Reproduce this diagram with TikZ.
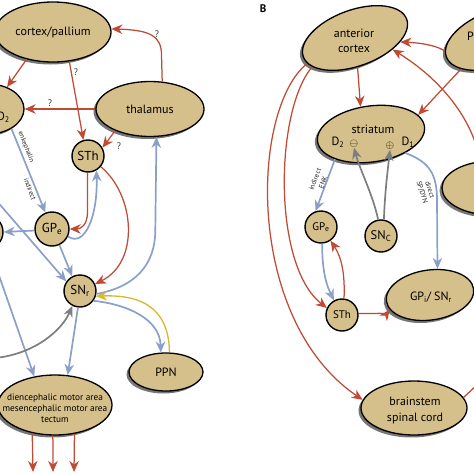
\documentclass[tikz,border=0pt]{standalone}
\usepackage{fontspec}
\setmainfont{PT Sans}
\usetikzlibrary{shapes.geometric,shadows,arrows.meta}
\definecolor{nodetan}{RGB}{213,191,138}
\definecolor{redc}{RGB}{193,74,52}
\definecolor{bluec}{RGB}{139,160,201}
\definecolor{yellowc}{RGB}{212,184,48}
\definecolor{greyc}{RGB}{125,126,130}
\definecolor{shadowgrey}{RGB}{118,118,118}
\begin{document}
\begin{tikzpicture}[x=1pt,y=-1pt,
  ell/.style={ellipse, draw=black, line width=1.3pt, fill=nodetan, inner sep=0pt,
    general shadow={fill=shadowgrey, shadow xshift=-2.5pt, shadow yshift=-2.5pt},
    font=\fontsize{12}{15}\selectfont, align=center},
  circ/.style={circle, draw=black, line width=1.4pt, fill=nodetan, inner sep=0pt, minimum size=32pt},
  txt/.style={font=\fontsize{12}{15}\selectfont, align=center, inner sep=0pt},
  tip/.style={-{Stealth[length=11pt,width=9.5pt,inset=3.5pt]}},
  ra/.style={draw=redc, line width=1.25pt, tip},
  rl/.style={draw=redc, line width=1.25pt},
  ba/.style={draw=bluec, line width=1.7pt, tip},
  ya/.style={draw=yellowc, line width=1.3pt, tip},
  ga/.style={draw=greyc, line width=1.7pt, tip},
  q/.style={font=\fontsize{9.5}{10}\selectfont, text=black!80, inner sep=0pt},
  lab/.style={font=\fontsize{7}{8}\selectfont, inner sep=0pt, text=black!85}
]
\useasboundingbox (0,0) rectangle (474,474);

% ---------------- Panel A ----------------
\node[ell, minimum width=116pt, minimum height=60pt] (cortex) at (53,32) {cortex/pallium};
\node[ell, minimum width=108pt, minimum height=55pt] (thal) at (150,109) {thalamus};
\node[ell, minimum width=72pt, minimum height=50pt] (striA) at (-12,109) {};
\node[txt, anchor=east] (d2a) at (10,117) {D\textsubscript{2}};
\node[circ, minimum size=34pt, font=\fontsize{13}{15}\selectfont] (leftnode) at (-14,232) {};
\node[circ, font=\fontsize{13}{15}\selectfont] (sthA) at (88,156) {STh};
\node[circ, minimum size=34pt, font=\fontsize{13}{15}\selectfont] (gpeA) at (52,229) {GP\textsubscript{e}};
\node[circ, font=\fontsize{13}{15}\selectfont] (snrA) at (80,291) {SN\textsubscript{r}};
\node[ell, minimum width=74pt, minimum height=38pt] (ppn) at (166,372) {PPN};
\node[ell, minimum width=114pt, minimum height=60pt] (dien) at (55,405) {};
\node[txt, font=\fontsize{9.3}{11}\selectfont] (dientxt) at (55,408) {diencephalic motor area\\mesencephalic motor area\\tectum};

\draw[ra] (cortex.226) -- (striA.49);
\draw[ra] (cortex.299) -- (sthA.106);
\node[q] (q1) at (76,72) {?};
\draw[ra] (thal.66) -- (161.5,55) .. controls (161.5,36) and (150,30) .. (cortex.3);
\node[q] (q2) at (157,34) {?};
\draw[ra] (thal.180) -- (striA.0);
\node[q] (q3) at (50,103) {?};
\draw[ra] (thal.212) -- (sthA.30);
\node[q] (q4) at (119,146) {?};

\draw[ba] (striA.320) -- (gpeA.112);
\node[lab, rotate=-68.7] (lenk) at (26,147) {enkephalin};
\node[lab, rotate=-68.7] (lind) at (30,189) {indirect};
\draw[ba] (gpeA.185) -- (leftnode.0);
\draw[ba] (gpeA.295) -- (snrA.118);
\coordinate (lin1) at (-5,199);
\draw[ba] (lin1) -- (snrA.145);
\coordinate (lin2) at (-5,264);
\draw[ba] (lin2) -- (dien.126);
\draw[ba] (snrA.263) -- (dien.67);
\coordinate (lin3) at (-5,358);
\draw[ga] (lin3) .. controls (35,354) and (62,330) .. (snrA.243);

\draw[ra] (sthA.268) -- (87.5,212) .. controls (87.5,226) and (80,229) .. (gpeA.0);
\draw[ba] (gpeA.335) .. controls (85,248) and (98,215) .. (sthA.300);
\draw[ra] (sthA.320) .. controls (135,195) and (140,262) .. (snrA.25);
\draw[ba] (snrA.350) .. controls (135,287) and (155.3,265) .. (155.3,230) -- (thal.283);
\draw[ya] (ppn.80) .. controls (169,300) and (130,295) .. (snrA.342);
\draw[ba] (snrA.324) .. controls (125,304) and (160,318) .. (ppn.105);

\coordinate (o1) at (33,472);
\coordinate (o2) at (53,472);
\coordinate (o3) at (74,472);
\draw[ra] (dien.231.5) -- (o1);
\draw[ra] (dien.266) -- (o2);
\draw[ra] (dien.304) -- (o3);

% ---------------- Panel B ----------------
\node[font=\bfseries\fontsize{11}{12}\selectfont, inner sep=0pt] (blabel) at (263,9) {B};

\node[ell, rotate=20, minimum width=110pt, minimum height=56pt] (actx) at (355,38) {};
\node[txt] (actxt) at (354,41) {anterior\\cortex};
\node[ell, rotate=20, minimum width=110pt, minimum height=56pt] (pctx) at (498,38) {};
\node[txt, anchor=west] (pctxt) at (467,36) {P};
\node[ell, minimum width=100pt, minimum height=54pt] (rthal) at (492,188) {};
\node[ell, rotate=8, minimum width=108pt, minimum height=56pt] (stri) at (371,134) {};
\node[txt] (stritxt) at (373,129) {striatum};
\node[txt] (d2b) at (338,142) {D\textsubscript{2}};
\node[txt] (d1b) at (408,142) {D\textsubscript{1}};
\node[inner sep=0pt, font=\fontsize{11}{12}\selectfont] (minus) at (354,144) {$\ominus$};
\node[inner sep=0pt, font=\fontsize{11}{12}\selectfont] (plus) at (390,146) {$\oplus$};
\node[circ, font=\fontsize{11}{13}\selectfont] (gpeB) at (321,227) {GP\textsubscript{e}};
\node[circ, font=\fontsize{12.5}{14}\selectfont] (sncB) at (381,236) {SN\textsubscript{C}};
\node[circ, font=\fontsize{11}{13}\selectfont] (sthB) at (342,315) {STh};
\node[ell, rotate=8, minimum width=88pt, minimum height=50pt] (gpi) at (430,295) {};
\node[txt] (gpitxt) at (431,297) {GP\textsubscript{i}/ SN\textsubscript{r}};
\node[ell, minimum width=106pt, minimum height=54pt] (brain) at (414,408) {};
\node[txt, font=\fontsize{12}{16}\selectfont] (braintxt) at (415,410) {brainstem\\spinal cord};

\draw[ra] (actx.255) -- (stri.103);
\draw[ra] (pctx.174) .. controls (440,47) and (425,43) .. (actx.335);
\draw[ra] (pctx.200) -- (stri.14);
\draw[ra] (rthal.115) .. controls (476,130) and (450,85) .. (actx.323);
\draw[ra] (actx.194) .. controls (275,110) and (272,265) .. (sthB.155);
\draw[ra] (actx.188) .. controls (250,110) and (245,320) .. (brain.171);

\draw[ba] (stri.207) -- (gpeB.109);
\node[lab, rotate=69] (lind2) at (315,179.5) {indirect};
\node[lab, rotate=69] (lenk2) at (323,182.5) {ENK};
\draw[ba] (stri.323) .. controls (430,162) and (437,175) .. (437,200) -- (gpi.66);
\node[lab, rotate=-72] (ldir) at (430,189.5) {direct};
\node[lab, rotate=-72] (lspd) at (422,192.5) {SP/DYN};

\draw[ga] (sncB.100) .. controls (373,195) and (360,170) .. (minus.south);
\draw[ga] (sncB.80) .. controls (385,190) and (388,168) .. (plus.south);

\draw[ba] (gpeB.274) .. controls (322,275) and (328,288) .. (sthB.119);
\draw[ra] (sthB.83) .. controls (345,275) and (342,258) .. (gpeB.305);
\draw[ra] (sthB.5) .. controls (375,314) and (388,312) .. (gpi.192);

\coordinate (rout) at (480,382);
\draw[rl] (brain.12) -- (rout);
\end{tikzpicture}
\end{document}
